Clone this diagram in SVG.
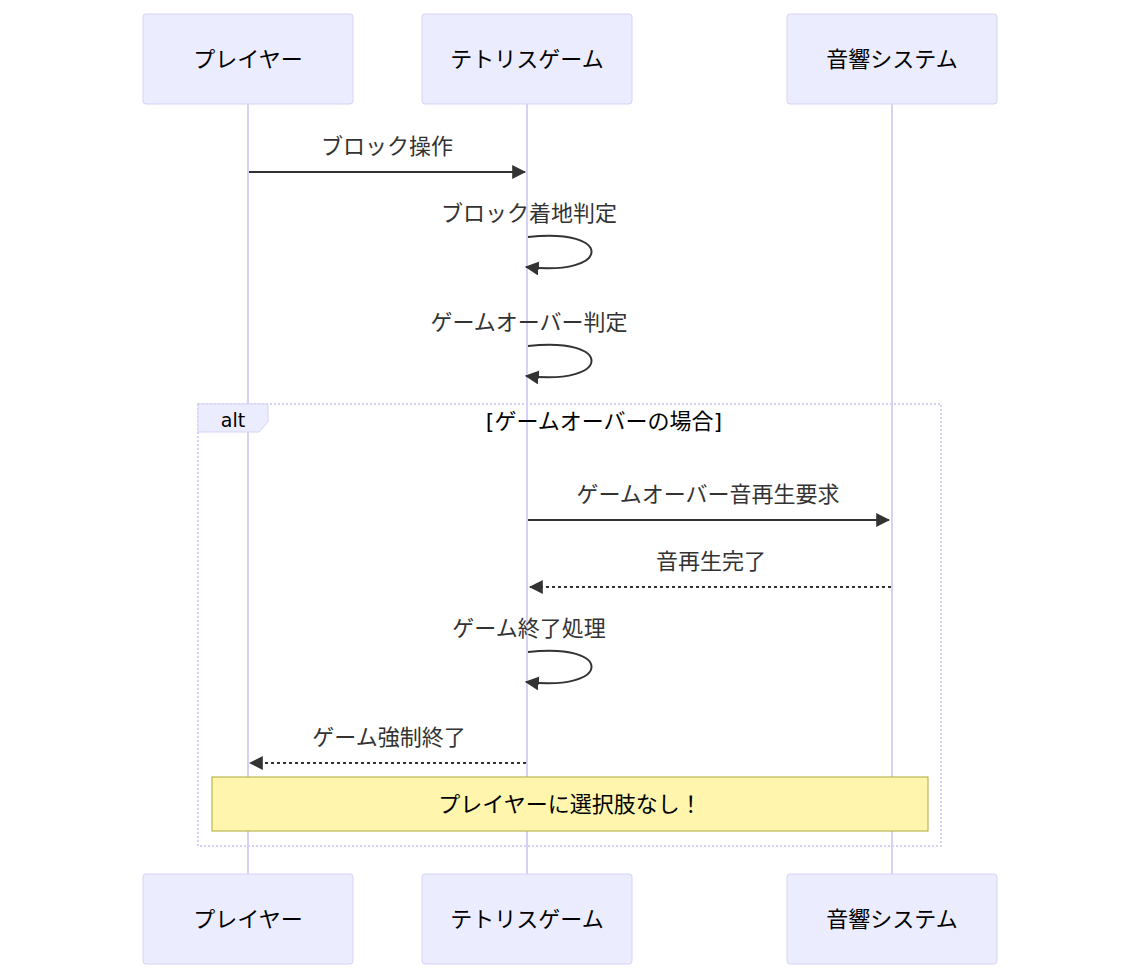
<svg xmlns="http://www.w3.org/2000/svg" width="1140" height="980" viewBox="0 0 1140 980">
<defs>
<marker id="arrow" viewBox="0 0 12 12" refX="11" refY="6" markerWidth="14" markerHeight="14" markerUnits="userSpaceOnUse" orient="auto">
<path d="M0,0 L12,6 L0,12 z" fill="#333"/>
</marker>
</defs>
<style>
text{font-family:"DejaVu Sans","Noto Sans CJK JP",sans-serif;font-size:22px;fill:#333;text-anchor:middle;dominant-baseline:central}
.actor rect{fill:#ECECFF;stroke:#d6d2f5;stroke-width:1}
.actor text{fill:#000}
.life{stroke:#d6d2f5;stroke-width:2}
.msg{stroke:#333;stroke-width:2;fill:none}
.dash{stroke-dasharray:3,3}
.loopbox{fill:none;stroke:#d6d2f5;stroke-width:2;stroke-dasharray:2,2}
</style>
<g id="lifelines">
<line class="life" x1="248" y1="104" x2="248" y2="874"/>
<line class="life" x1="527" y1="104" x2="527" y2="874"/>
<line class="life" x1="892" y1="104" x2="892" y2="874"/>
</g>
<g id="actor-player-top" class="actor"><rect x="143" y="14" width="210" height="90" rx="3"/><text x="248" y="59">プレイヤー</text></g>
<g id="actor-game-top" class="actor"><rect x="422" y="14" width="210" height="90" rx="3"/><text x="527" y="59">テトリスゲーム</text></g>
<g id="actor-sound-top" class="actor"><rect x="787" y="14" width="210" height="90" rx="3"/><text x="892" y="59">音響システム</text></g>
<g id="actor-player-bottom" class="actor"><rect x="143" y="874" width="210" height="90" rx="3"/><text x="248" y="919">プレイヤー</text></g>
<g id="actor-game-bottom" class="actor"><rect x="422" y="874" width="210" height="90" rx="3"/><text x="527" y="919">テトリスゲーム</text></g>
<g id="actor-sound-bottom" class="actor"><rect x="787" y="874" width="210" height="90" rx="3"/><text x="892" y="919">音響システム</text></g>
<g id="alt-frame">
<rect class="loopbox" x="198" y="404" width="743" height="442"/>
<polygon points="198,404 268,404 268,422 259,432 198,432" fill="#ECECFF" stroke="#d6d2f5" stroke-width="1"/>
<text x="233" y="420" style="fill:#000;font-size:19px">alt</text>
<text x="604" y="421" style="fill:#000">[ゲームオーバーの場合]</text>
</g>
<g id="note">
<rect x="212" y="777" width="716" height="54" fill="#fff5ad" stroke="#aaaa33" stroke-width="1"/>
<text x="570" y="804" style="fill:#000">プレイヤーに選択肢なし！</text>
</g>
<g id="connectors">
<text x="387" y="146">ブロック操作</text>
<line class="msg" x1="249" y1="172" x2="525" y2="172" marker-end="url(#arrow)"/>
<text x="529" y="213">ブロック着地判定</text>
<path class="msg" d="M528,237 C613,227 613,277 526,267" marker-end="url(#arrow)"/>
<text x="529" y="322">ゲームオーバー判定</text>
<path class="msg" d="M528,346 C613,336 613,386 526,376" marker-end="url(#arrow)"/>
<text x="708" y="494">ゲームオーバー音再生要求</text>
<line class="msg" x1="528" y1="520" x2="889" y2="520" marker-end="url(#arrow)"/>
<text x="711" y="561">音再生完了</text>
<line class="msg dash" x1="891" y1="587" x2="530" y2="587" marker-end="url(#arrow)"/>
<text x="529" y="628">ゲーム終了処理</text>
<path class="msg" d="M528,652 C613,642 613,692 526,682" marker-end="url(#arrow)"/>
<text x="389" y="737">ゲーム強制終了</text>
<line class="msg dash" x1="526" y1="763" x2="250" y2="763" marker-end="url(#arrow)"/>
</g>
</svg>
